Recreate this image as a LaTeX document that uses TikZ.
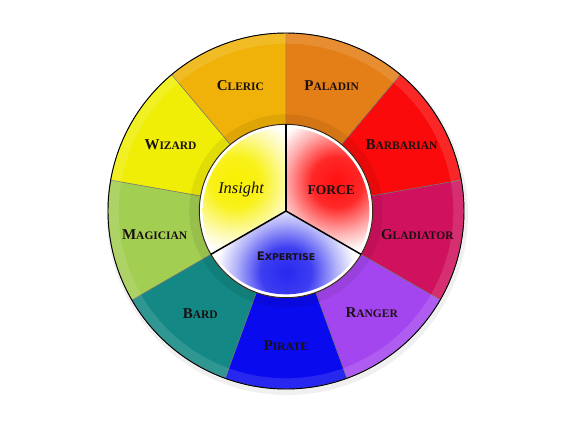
\documentclass[tikz,border=0pt]{standalone}
\usepackage{fontspec}
\setmainfont{Liberation Serif}
\setsansfont{DejaVu Sans}

\definecolor{clericcol}{HTML}{F0B208}
\definecolor{paladincol}{HTML}{E47E16}
\definecolor{barbariancol}{HTML}{FA0A0A}
\definecolor{gladiatorcol}{HTML}{D0125E}
\definecolor{rangercol}{HTML}{A446F0}
\definecolor{piratecol}{HTML}{0A0AEE}
\definecolor{bardcol}{HTML}{148884}
\definecolor{magiciancol}{HTML}{A2CE52}
\definecolor{wizardcol}{HTML}{F0EE06}
\definecolor{inktext}{HTML}{1A1012}
\definecolor{insightglow}{HTML}{F8F000}
\definecolor{forceglow}{HTML}{FF1010}
\definecolor{expertiseglow}{HTML}{2828F0}

\pgfdeclareradialshading{insightshade}{\pgfpoint{0bp}{0bp}}{color(0bp)=(insightglow); color(9bp)=(insightglow!90); color(18bp)=(insightglow!35); color(25bp)=(white); color(50bp)=(white)}
\pgfdeclareradialshading{forceshade}{\pgfpoint{0bp}{0bp}}{color(0bp)=(forceglow); color(9bp)=(forceglow!90); color(18bp)=(forceglow!35); color(25bp)=(white); color(50bp)=(white)}
\pgfdeclareradialshading{expertiseshade}{\pgfpoint{0bp}{0bp}}{color(0bp)=(expertiseglow); color(9bp)=(expertiseglow!90); color(18bp)=(expertiseglow!35); color(25bp)=(white); color(50bp)=(white)}

\newcommand{\fakesc}[2]{#1{\fontsize{9.8}{10}\selectfont #2}}

\begin{document}
\begin{tikzpicture}
    \tikzstyle{seg} = [draw=black!55, line width = 0.4pt]
    \tikzstyle{cls} = [text=inktext, font=\bfseries\fontsize{12.8}{13}\selectfont]
    \tikzstyle{virtue} = [text=inktext]
    \useasboundingbox (-8.58,-6.42) rectangle (8.61,6.33);
    \coordinate (hub) at (0,0);
    % soft shadow
    \fill[black!6] (0.04,-0.1) circle (5.42);
    % outer ring
    \fill[seg, fill=clericcol] (90:5.34) arc (90:130:5.34) -- (130:2.6) arc (130:90:2.6) -- cycle;
    \fill[seg, fill=paladincol] (50:5.34) arc (50:90:5.34) -- (90:2.6) arc (90:50:2.6) -- cycle;
    \fill[seg, fill=barbariancol] (10:5.34) arc (10:50:5.34) -- (50:2.6) arc (50:10:2.6) -- cycle;
    \fill[seg, fill=gladiatorcol] (-30:5.34) arc (-30:10:5.34) -- (10:2.6) arc (10:-30:2.6) -- cycle;
    \fill[seg, fill=rangercol] (-70:5.34) arc (-70:-30:5.34) -- (-30:2.6) arc (-30:-70:2.6) -- cycle;
    \fill[seg, fill=piratecol] (-110:5.34) arc (-110:-70:5.34) -- (-70:2.6) arc (-70:-110:2.6) -- cycle;
    \fill[seg, fill=bardcol] (-150:5.34) arc (-150:-110:5.34) -- (-110:2.6) arc (-110:-150:2.6) -- cycle;
    \fill[seg, fill=magiciancol] (170:5.34) arc (170:210:5.34) -- (210:2.6) arc (210:170:2.6) -- cycle;
    \fill[seg, fill=wizardcol] (130:5.34) arc (130:170:5.34) -- (170:2.6) arc (170:130:2.6) -- cycle;
    % bevels
    \fill[white, opacity=0.12, even odd rule] (hub) circle (5.34) circle (5.02);
    \fill[black, opacity=0.07, even odd rule] (hub) circle (2.9) circle (2.6);
    \draw[black, line width=0.8pt] (hub) circle (5.34);
    % inner disc
    \fill[white] (hub) circle (2.6);
    \begin{scope}
        \clip (hub) -- (90:2.5) arc (90:210:2.5) -- cycle;
        \shade[shading=insightshade] (150:1.75) circle (2.1);
    \end{scope}
    \begin{scope}
        \clip (hub) -- (-30:2.5) arc (-30:90:2.5) -- cycle;
        \shade[shading=forceshade] (30:1.75) circle (2.1);
    \end{scope}
    \begin{scope}
        \clip (hub) -- (210:2.5) arc (210:330:2.5) -- cycle;
        \shade[shading=expertiseshade] (-90:1.85) circle (2.1);
    \end{scope}
    \draw[black!70!brown, line width=0.8pt] (hub) circle (2.6);
    \draw[line width=1.3pt] (hub) -- (90:2.6);
    \draw[line width=1.3pt] (hub) -- (-30:2.6);
    \draw[line width=1.3pt] (hub) -- (210:2.6);
    % class names
    \node[cls] (cleric) at (110:4.0) {\fakesc{C}{LERIC}};
    \node[cls] (paladin) at (70:4.0) {\fakesc{P}{ALADIN}};
    \node[cls] (barbarian) at (30:4.0) {\fakesc{B}{ARBARIAN}};
    \node[cls] (gladiator) at (-10:4.0) {\fakesc{G}{LADIATOR}};
    \node[cls] (ranger) at (-50:4.0) {\fakesc{R}{ANGER}};
    \node[cls] (pirate) at (-90:4.05) {\fakesc{P}{IRATE}};
    \node[cls] (bard) at (-130:4.0) {\fakesc{B}{ARD}};
    \node[cls] (magician) at (-170:4.0) {\fakesc{M}{AGICIAN}};
    \node[cls] (wizard) at (150:4.0) {\fakesc{W}{IZARD}};
    % virtues
    \node[virtue, font=\itshape\fontsize{14}{14}\selectfont] (insight) at (154:1.5) {Insight};
    \node[virtue, font=\bfseries\fontsize{11.5}{12}\selectfont] (force) at (25:1.5) {FORCE};
    \node[virtue, font=\sffamily\bfseries\fontsize{10}{10}\selectfont] (expertise) at (-90:1.35) {E{\fontsize{8}{8}\selectfont XPERTISE}};
\end{tikzpicture}
\end{document}
